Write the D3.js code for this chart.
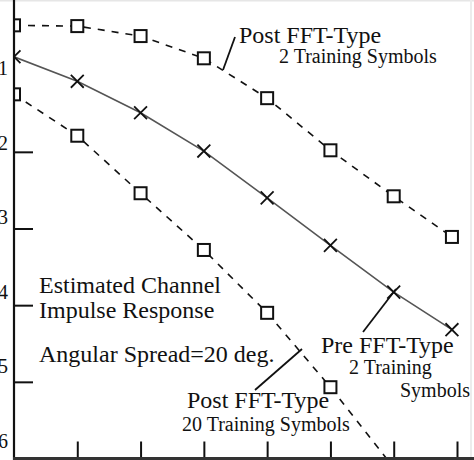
<!DOCTYPE html>
<html>
<head>
<meta charset="utf-8">
<script src="https://cdn.jsdelivr.net/npm/d3@7"></script>
<style>
  html, body { margin: 0; padding: 0; background: #fff; }
  svg { display: block; }
  text { font-family: "Liberation Serif", "Times New Roman", serif; fill: #111; }
</style>
</head>
<body>
<svg id="chart" width="474" height="460"></svg>
<script>
// ---- data ----
const xPositions = [0, 1, 2, 3, 4, 5, 6, 6.92];
const postFFT2 = [0.35, 0.36, 0.49, 0.78, 1.30, 1.98, 2.58, 3.11];
const preFFT2 = [0.76, 1.08, 1.49, 1.99, 2.60, 3.22, 3.83, 4.32];
const postFFT20 = [1.25, 1.79, 2.54, 3.28, 4.10, 5.07, 6.12];
const xTickValues = [0, 1, 2, 3, 4, 5, 6, 7];
const yTickValues = [2, 3, 4, 5];
const yTickLabels = ["1", "2", "3", "4", "5", "6"];

const svg = d3.select("#chart");
const W = 474, H = 460;
const x0 = 14, xEnd = 457, yTop = -1.5, yBot = 458.5;

const x = d3.scaleLinear().domain([0, 7]).range([x0, xEnd]);
const y = d3.scaleLinear().domain([0, 6]).range([yTop, yBot]);
// label positions (the labels in the original sit slightly off the ticks)
const yLab = d3.scalePoint().domain(yTickLabels).range([75, 448]);

svg.append("rect").attr("width", W).attr("height", H).attr("fill", "#fff");
// faint border of the cropped figure
svg.append("line").attr("x1", 0).attr("x2", W).attr("y1", 0.5).attr("y2", 0.5)
  .attr("stroke", "#e6e6e6").attr("stroke-width", 2);
svg.append("line").attr("x1", 471).attr("x2", 471).attr("y1", 0).attr("y2", H)
  .attr("stroke", "#ececec").attr("stroke-width", 2);

svg.append("defs").append("clipPath").attr("id", "plotclip")
  .append("rect").attr("x", x0).attr("y", 0).attr("width", W - x0).attr("height", 457);

const plot = svg.append("g").attr("clip-path", "url(#plotclip)");

const line = d3.line().x(d => x(d[0])).y(d => y(d[1]));
const pts = arr => arr.map((v, i) => [xPositions[i], v]);

// dashed series
[postFFT2, postFFT20].forEach(s => {
  plot.append("path").datum(pts(s)).attr("d", line)
    .attr("fill", "none").attr("stroke", "#111").attr("stroke-width", 1.6)
    .attr("stroke-dasharray", "7,7");
});
// solid series
plot.append("path").datum(pts(preFFT2)).attr("d", line)
  .attr("fill", "none").attr("stroke", "#555").attr("stroke-width", 1.6);

// square markers
[postFFT2, postFFT20].forEach(s => {
  plot.selectAll(null).data(pts(s)).enter().append("rect")
    .attr("x", d => x(d[0]) - 6).attr("y", d => y(d[1]) - 6)
    .attr("width", 12).attr("height", 12)
    .attr("fill", "#fff").attr("stroke", "#111").attr("stroke-width", 2);
});
// X markers
const cross = d3.symbol().type(d3.symbolX).size(110);
plot.selectAll(null).data(pts(preFFT2)).enter().append("path")
  .attr("d", cross)
  .attr("transform", d => `translate(${x(d[0])},${y(d[1])}) rotate(0)`)
  .attr("fill", "none").attr("stroke", "#111").attr("stroke-width", 1.8);

// axes
const xAxis = d3.axisBottom(x).tickValues(xTickValues.slice(1)).tickSize(-17).tickFormat("");
const gx = svg.append("g").attr("transform", `translate(0,${yBot})`).call(xAxis);
gx.select(".domain").remove();
gx.selectAll(".tick line").attr("stroke", "#111").attr("stroke-width", 2);

const yAxis = d3.axisLeft(y).tickValues(yTickValues).tickSize(-19).tickFormat("");
const gy = svg.append("g").attr("transform", `translate(${x0},0)`).call(yAxis);
gy.select(".domain").remove();
gy.selectAll(".tick line").attr("stroke", "#111").attr("stroke-width", 2);

svg.append("line").attr("x1", x0).attr("x2", x0).attr("y1", 0).attr("y2", H)
  .attr("stroke", "#111").attr("stroke-width", 2.2);
svg.append("line").attr("x1", x0 - 1).attr("x2", W).attr("y1", 458.5).attr("y2", 458.5)
  .attr("stroke", "#333").attr("stroke-width", 3);

svg.append("g").selectAll("text").data(yTickLabels).enter().append("text")
  .attr("x", 8).attr("y", d => yLab(d)).attr("text-anchor", "end")
  .attr("font-size", 20).text(d => d);

// annotations
function txt(str, tx, ty, size, anchor) {
  svg.append("text").attr("x", tx).attr("y", ty).attr("font-size", size)
    .attr("text-anchor", anchor || "start").text(str);
}
txt("Estimated Channel", 39, 293, 24);
txt("Impulse Response", 39, 318, 24);
txt("Angular Spread=20 deg.", 39, 362, 24);

txt("Post FFT-Type", 239, 43, 24);
txt("2 Training Symbols", 279, 63, 20);

txt("Pre FFT-Type", 321, 353, 24);
txt("2 Training", 349, 374, 20);
txt("Symbols", 400, 397, 20);

txt("Post FFT-Type", 187, 408, 24);
txt("20 Training Symbols", 182, 431, 20);

// leader lines
const leaders = [[223, 70, 235, 37], [396, 289, 363, 332], [255, 390, 302, 349]];
svg.selectAll(null).data(leaders).enter().append("line")
  .attr("x1", d => d[0]).attr("y1", d => d[1]).attr("x2", d => d[2]).attr("y2", d => d[3])
  .attr("stroke", "#111").attr("stroke-width", 1.8);
</script>
</body>
</html>
